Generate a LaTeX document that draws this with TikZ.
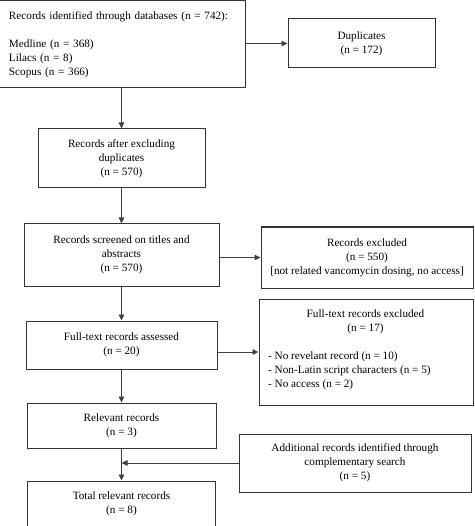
\documentclass[tikz,border=0pt]{standalone}
\usepackage{fontspec}
\setmainfont{Liberation Serif}
\usetikzlibrary{arrows.meta}
\newcommand{\fsz}{\fontsize{11.2}{14}\selectfont}
\begin{document}
\begin{tikzpicture}[x=1pt,y=-1pt,
  box/.style={draw=black!80, line width=1pt, inner sep=0pt, align=center, font=\fsz},
  lbl/.style={inner sep=0pt, font=\fsz},
  conn/.style={draw=black!75, line width=0.9pt, -{Triangle[length=6pt,width=5.5pt]}}]
\useasboundingbox (0,0) rectangle (474,526);
\clip (0,0) rectangle (474,526);
\node[box, minimum width=249pt, minimum height=87pt, text width=223pt, align=left] (b1) at (120.5,44.5)
  {Records identified through databases (n = 742):\\[14pt]Medline (n = 368)\\Lilacs (n = 8)\\Scopus (n = 366)};
\node[box, minimum width=147pt, minimum height=49pt] (dup) at (361.5,43.5) {Duplicates\\(n = 172)};
\node[box, minimum width=167pt, minimum height=59pt] (b2) at (121.5,158.5) {Records after excluding\\duplicates\\(n = 570)};
\node[box, minimum width=195pt, minimum height=62pt] (b3) at (121.5,255) {Records screened on titles and\\abstracts\\(n = 570)};
\node[box, minimum width=212pt, minimum height=61pt] (ex) at (367,257.5) {Records excluded\\(n = 550)\\{[}not related vancomycin dosing, no access{]}};
\node[box, minimum width=214pt, minimum height=106pt] (ft) at (366,352) {};
\node[lbl, align=center] (fth) at (365.5,322) {Full-text records excluded\\(n = 17)};
\node[lbl, align=left, anchor=west] (ftl) at (268,371) {- No revelant record (n = 10)\\- Non-Latin script characters (n = 5)\\- No access (n = 2)};
\node[box, minimum width=191pt, minimum height=48pt] (b4) at (121.5,345) {Full-text records assessed\\(n = 20)};
\node[box, minimum width=189pt, minimum height=45pt] (b5) at (121.5,425.5) {Relevant records\\(n = 3)};
\node[box, minimum width=232pt, minimum height=58pt] (b6) at (355,463) {Additional records identified through\\complementary search\\(n = 5)};
\node[box, minimum width=188pt, minimum height=46pt] (b7) at (121.5,504) {Total relevant records\\(n = 8)};
\draw[conn] (b1.south -| b2.north) -- (b2.north);
\draw[conn] (b2.south) -- (b3.north);
\draw[conn] (b3.south) -- (b4.north);
\draw[conn] (b4.south) -- (b5.north);
\draw[conn] (b5.south) -- (b7.north);
\draw[conn] (b1.east |- dup.west) -- (dup.west);
\draw[conn] (b3.east |- ex.west) -- (ex.west);
\draw[conn] (b4.east |- ft.west) -- (ft.west);
\coordinate (m) at (b6.west -| b5.south);
\draw[conn] (b6.west) -- (m);
\end{tikzpicture}
\end{document}
